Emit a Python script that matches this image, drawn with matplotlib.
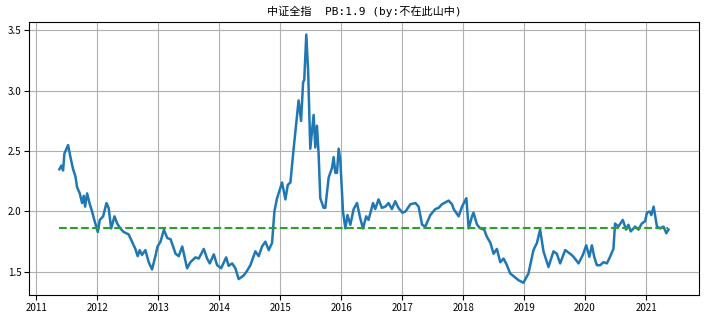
import matplotlib
matplotlib.use('Agg')
import matplotlib.pyplot as plt
import pandas as pd

# weekly-ish PB readings of 中证全指
dates = [
  '2011-05-19', '2011-05-31', '2011-06-10', '2011-06-18', '2011-07-10', '2011-07-24',
  '2011-08-09', '2011-08-23', '2011-09-02', '2011-09-18', '2011-10-02', '2011-10-12',
  '2011-10-20', '2011-11-01', '2011-11-17', '2011-12-01', '2011-12-11',
  '2012-01-04', '2012-01-16', '2012-02-05', '2012-02-25', '2012-03-09', '2012-03-24',
  '2012-04-13', '2012-04-29', '2012-05-18', '2012-06-07', '2012-07-07', '2012-07-27',
  '2012-08-16', '2012-08-30', '2012-09-11', '2012-09-25', '2012-10-15', '2012-11-04',
  '2012-11-24', '2012-12-14', '2012-12-27',
  '2013-01-14', '2013-02-03', '2013-02-23', '2013-03-15', '2013-04-14', '2013-05-03',
  '2013-05-24', '2013-06-22', '2013-07-12', '2013-08-11', '2013-08-31', '2013-09-30',
  '2013-10-20', '2013-11-05', '2013-11-29', '2013-12-19',
  '2014-01-12', '2014-02-11', '2014-02-26', '2014-03-19', '2014-04-07', '2014-04-27',
  '2014-05-27', '2014-06-17', '2014-07-06', '2014-08-05', '2014-08-25', '2014-09-14',
  '2014-10-04', '2014-10-24', '2014-11-13', '2014-11-27', '2014-12-13',
  '2015-01-12', '2015-02-01', '2015-02-15', '2015-03-03', '2015-03-19', '2015-04-21',
  '2015-05-06', '2015-05-18', '2015-05-25', '2015-06-06', '2015-06-17', '2015-06-30',
  '2015-07-20', '2015-07-30', '2015-08-09', '2015-08-19', '2015-08-29', '2015-09-08',
  '2015-09-18', '2015-09-28', '2015-10-18', '2015-11-07', '2015-11-17', '2015-11-27',
  '2015-12-07', '2015-12-17', '2015-12-27',
  '2016-01-12', '2016-01-26', '2016-02-08', '2016-02-25', '2016-03-16', '2016-04-05',
  '2016-04-24', '2016-05-11', '2016-05-30', '2016-06-13', '2016-07-10', '2016-07-23',
  '2016-08-12', '2016-09-01', '2016-09-21', '2016-10-11', '2016-10-31', '2016-11-20',
  '2016-12-09',
  '2017-01-02', '2017-01-20', '2017-02-19', '2017-03-21', '2017-04-09', '2017-04-30',
  '2017-05-19', '2017-06-18', '2017-07-18', '2017-08-07', '2017-08-27', '2017-10-06',
  '2017-10-26', '2017-11-05', '2017-12-05', '2017-12-25',
  '2018-01-20', '2018-02-03', '2018-02-23', '2018-03-04', '2018-03-25', '2018-04-14',
  '2018-05-07', '2018-05-23', '2018-06-13', '2018-07-02', '2018-07-22', '2018-08-11',
  '2018-08-31', '2018-09-20', '2018-10-10', '2018-11-03', '2018-11-29', '2018-12-28',
  '2019-01-27', '2019-02-26', '2019-03-19', '2019-04-07', '2019-04-27', '2019-05-27',
  '2019-06-26', '2019-07-16', '2019-08-05', '2019-09-04', '2019-10-04', '2019-10-24',
  '2019-11-23', '2019-12-19',
  '2020-01-08', '2020-01-27', '2020-02-11', '2020-02-25', '2020-03-12', '2020-04-01',
  '2020-04-20', '2020-05-11', '2020-05-30', '2020-06-19', '2020-06-29', '2020-07-19',
  '2020-08-14', '2020-09-03', '2020-09-17', '2020-10-01', '2020-10-27', '2020-11-16',
  '2020-12-06', '2020-12-26',
  '2021-01-06', '2021-01-22', '2021-02-01', '2021-02-15', '2021-03-07', '2021-03-26',
  '2021-04-15', '2021-05-02', '2021-05-15',
]

pb = [
  2.35, 2.38, 2.34, 2.48, 2.55, 2.45,
  2.35, 2.29, 2.20, 2.15, 2.07, 2.13,
  2.04, 2.15, 2.06, 2.00, 1.945,
  1.83, 1.93, 1.96, 2.07, 2.03, 1.86,
  1.96, 1.90, 1.86, 1.83, 1.81, 1.75,
  1.69, 1.63, 1.68, 1.64, 1.68, 1.58,
  1.52, 1.63, 1.71,
  1.75, 1.85, 1.78, 1.77, 1.65, 1.63,
  1.71, 1.53, 1.58, 1.62, 1.61, 1.69,
  1.61, 1.57, 1.645, 1.555,
  1.53, 1.62, 1.55, 1.57, 1.53, 1.44,
  1.47, 1.51, 1.555, 1.67, 1.63, 1.71,
  1.75, 1.68, 1.74, 2.00, 2.11,
  2.24, 2.10, 2.22, 2.24, 2.475, 2.92,
  2.75, 3.07, 3.09, 3.465, 3.17, 2.52,
  2.80, 2.53, 2.71, 2.475, 2.11, 2.07,
  2.03, 2.03, 2.28, 2.36, 2.45, 2.32,
  2.32, 2.52, 2.42,
  2.00, 1.86, 1.97, 1.89, 2.02, 2.07,
  1.945, 1.86, 1.96, 1.93, 2.07, 2.02,
  2.10, 2.03, 2.04, 2.07, 2.02, 2.085,
  2.03,
  1.99, 2.00, 2.06, 2.07, 2.04, 1.89,
  1.875, 1.97, 2.02, 2.03, 2.06, 2.09,
  2.06, 2.02, 1.96, 2.04,
  2.11, 1.86, 1.96, 1.99, 1.89, 1.86,
  1.85, 1.79, 1.74, 1.65, 1.69, 1.58,
  1.61, 1.555, 1.486, 1.46, 1.43, 1.41,
  1.486, 1.68, 1.74, 1.85, 1.67, 1.54,
  1.67, 1.65, 1.57, 1.68, 1.65, 1.625,
  1.57, 1.64,
  1.72, 1.625, 1.72, 1.625, 1.555, 1.555,
  1.58, 1.57, 1.625, 1.69, 1.90, 1.875,
  1.93, 1.85, 1.89, 1.835, 1.875, 1.85,
  1.90, 1.92,
  1.99, 2.00, 1.97, 2.04, 1.875, 1.86,
  1.875, 1.82, 1.85,
]

median_pb = 1.86
title = '中证全指  PB:1.9 (by:不在此山中)'


def main():
  plt.rcParams['font.family'] = ['Noto Sans CJK SC', 'DejaVu Sans']
  plt.rcParams['axes.unicode_minus'] = False

  ts = pd.to_datetime(dates)

  fig = plt.figure(figsize=(7.06, 3.17), dpi=100)
  ax = fig.add_axes([0.041, 0.069, 0.949, 0.861])

  ax.plot(ts, pb, color='#1f77b4', linewidth=1.8)
  ax.plot([ts[0], ts[-1]], [median_pb, median_pb], color='#2ca02c',
          linestyle='--', linewidth=1.5)

  ax.grid(True, color='#b0b0b0', linewidth=0.8)
  ax.set_axisbelow(True)
  ax.set_yticks([1.5, 2.0, 2.5, 3.0, 3.5])
  ax.tick_params(labelsize=7, length=3.5, width=0.8, pad=2)
  # half-width monospaced latin like the original's SimHei title
  ax.set_title(title, fontsize=8, pad=5,
               family=['DejaVu Sans Mono', 'Noto Sans CJK SC'])

  fig.savefig('out.png', dpi=100)


if __name__ == '__main__':
  main()
